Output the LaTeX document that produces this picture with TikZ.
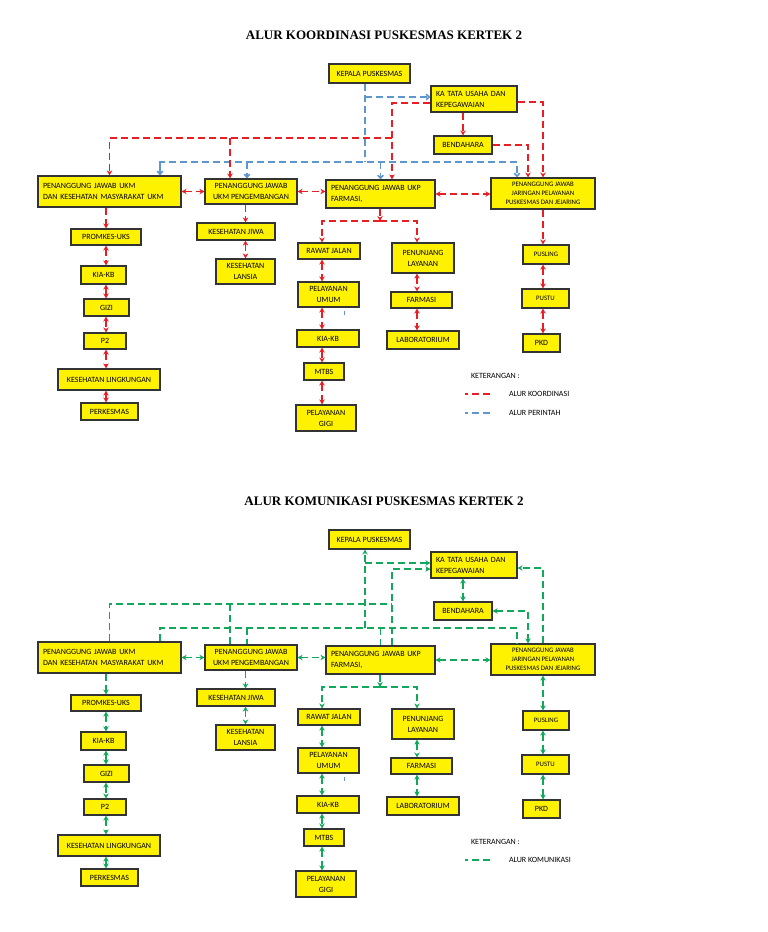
\documentclass[tikz,border=0pt]{standalone}
\usepackage{fontspec}
\setmainfont{Carlito}
\newfontfamily\judulfont{Liberation Serif}
\usetikzlibrary{arrows.meta}
\definecolor{merah}{RGB}{232,30,36}
\definecolor{biru}{RGB}{94,150,208}
\definecolor{hijau}{RGB}{18,168,92}
\tikzset{%
  k/.style = {rectangle,draw=black!80,fill=yellow,line width=1.2pt,
        inner sep=2pt,align=center,font=\fontsize{8}{11}\selectfont},
  kl/.style = {k,align=left,inner xsep=5pt},
  kc/.style = {k,font=\fontsize{6.8}{9}\selectfont},
  koor/.style = {merah,line width=1.8pt,dash pattern=on 7pt off 4pt,
        >={Stealth[length=5pt,width=5.5pt]}},
  per/.style = {biru,line width=1.6pt,dash pattern=on 7pt off 4pt,
        >={Straight Barb[length=3pt,width=5.5pt]}},
  kom/.style = {hijau,line width=1.8pt,dash pattern=on 7pt off 4pt,
        >={Stealth[length=5pt,width=5.5pt]}},
  judul/.style = {font=\judulfont\bfseries\fontsize{13}{15}\selectfont},
  ket/.style = {anchor=west,font=\fontsize{8}{10}\selectfont}
}

\begin{document}
\begin{tikzpicture}[x=1pt,y=-1pt]
\fill[white] (0,0) rectangle (768,932);
\useasboundingbox (0,0) rectangle (768,932);
% kotak kedua bagan
\foreach \nm/\dy/\jd in {a/0/KOORDINASI,b/466/KOMUNIKASI}{
  \begin{scope}[yshift=-\dy]
  \node[judul] (\nm-judul) at (384,35) {ALUR \jd\ PUSKESMAS KERTEK 2};
  \node[k,minimum width=81pt,minimum height=19pt] (\nm-kp) at (369.5,73.5) {KEPALA PUSKESMAS};
  \node[kl,text width=76pt,minimum height=26pt] (\nm-ktu) at (474,99) {KA TATA USAHA DAN\\KEPEGAWAIAN};
  \node[k,minimum width=58pt,minimum height=18pt] (\nm-bnd) at (463,145) {BENDAHARA};
  \node[kl,text width=133pt,minimum height=31pt] (\nm-ukm) at (109.5,191.5) {PENANGGUNG JAWAB UKM\\DAN KESEHATAN MASYARAKAT UKM};
  \node[k,minimum width=92pt,minimum height=25pt] (\nm-ukmp) at (251,191.5) {PENANGGUNG JAWAB\\UKM PENGEMBANGAN};
  \node[kl,text width=99pt,minimum height=28pt] (\nm-ukp) at (380.5,194) {PENANGGUNG JAWAB UKP\\FARMASI,};
  \node[kc,minimum width=104pt,minimum height=31pt] (\nm-jar) at (543,193.5) {PENANGGUNG JAWAB\\JARINGAN PELAYANAN\\PUSKESMAS DAN JEJARING};
  \node[k,minimum width=70pt,minimum height=16pt] (\nm-pro) at (106,237) {PROMKES-UKS};
  \node[k,minimum width=45pt,minimum height=18pt] (\nm-kia) at (103.5,275) {KIA-KB};
  \node[k,minimum width=45pt,minimum height=17pt] (\nm-gizi) at (106.5,307.5) {GIZI};
  \node[k,minimum width=42pt,minimum height=16pt] (\nm-p2) at (105,341) {P2};
  \node[k,minimum width=102pt,minimum height=21pt] (\nm-kl) at (109,379.5) {KESEHATAN LINGKUNGAN};
  \node[k,minimum width=57pt,minimum height=17pt] (\nm-pk) at (109.5,411.5) {PERKESMAS};
  \node[k,minimum width=78pt,minimum height=17pt] (\nm-jiwa) at (236,231.5) {KESEHATAN JIWA};
  \node[k,minimum width=59pt,minimum height=25pt] (\nm-lan) at (245.5,271.5) {KESEHATAN\\LANSIA};
  \node[k,minimum width=62pt,minimum height=16pt] (\nm-rj) at (329,251) {RAWAT JALAN};
  \node[k,minimum width=61pt,minimum height=25pt] (\nm-pu) at (328.5,294.5) {PELAYANAN\\UMUM};
  \node[k,minimum width=62pt,minimum height=17pt] (\nm-kia2) at (328,338.5) {KIA-KB};
  \node[k,minimum width=40pt,minimum height=17pt] (\nm-mtbs) at (324,371.5) {MTBS};
  \node[k,minimum width=60pt,minimum height=26pt] (\nm-gigi) at (326,418) {PELAYANAN\\GIGI};
  \node[k,minimum width=62pt,minimum height=30pt] (\nm-pl) at (423,258) {PENUNJANG\\LAYANAN};
  \node[k,minimum width=61pt,minimum height=16pt] (\nm-far) at (421.5,300) {FARMASI};
  \node[k,minimum width=72pt,minimum height=18pt] (\nm-lab) at (423,340) {LABORATORIUM};
  \node[kc,minimum width=46pt,minimum height=19pt] (\nm-pus) at (546,254.5) {PUSLING};
  \node[kc,minimum width=47pt,minimum height=19pt] (\nm-pst) at (545.5,298.5) {PUSTU};
  \node[k,minimum width=37pt,minimum height=18pt] (\nm-pkd) at (541.5,343) {PKD};
  \draw[biru,line width=0.7pt] (344,311) -- (344,315);
  \end{scope}
}

% bagan koordinasi
\begin{scope}[name prefix=a-]
  \coordinate (b0) at (365,97);
  \coordinate (b1) at (365,162);
  \coordinate (b2) at (160,162);
  \coordinate (b3) at (247,162);
  \coordinate (r1) at (392,138);
  \coordinate (r2) at (230,138);
  \coordinate (s1) at (380,221);
  \coordinate (c3) at (322,0);
  \coordinate (c4) at (417,0);
  % alur perintah
  \draw[per] (kp.south -| b1) -- (b1);
  \draw[per,->] (b0) -- (b0 -| ktu.west);
  \draw[per,->] (b2 |- ukm.north) -- (b2) -| ([xshift=-26pt]jar.north);
  \draw[per,->] (b2) -- (b2 |- ukm.north);
  \draw[per,->] (b3) -- (b3 |- ukmp.north);
  \draw[per,->] (ukp.north |- b1) -- (ukp.north);
  % alur koordinasi
  \draw[koor,->] ([yshift=-4pt]ktu.west) -| (r1 |- ukp.north);
  \draw[koor,->] (r1) -| (ukm.north);
  \draw[koor,->] (r2) -- (r2 |- ukmp.north);
  \draw[koor,->] (ktu.south -| bnd) -- (bnd.north);
  \draw[koor,->] ([yshift=-3pt]ktu.east) -| (jar.north);
  \draw[koor,->] (bnd.east) -| ([xshift=-15pt]jar.north);
  \draw[koor,<->] (ukm.east) -- (ukmp.west);
  \draw[koor,<->] (ukmp.east) -- (ukmp.east -| ukp.west);
  \draw[koor,<->] (ukp.east) -- (ukp.east -| jar.west);
  \draw[koor,->] (ukp.south -| s1) -- (s1);
  \draw[koor,->] (s1) -| (c3 |- rj.north);
  \draw[koor,->] (s1) -| (c4 |- pl.north);
  \draw[koor,->] (ukm.south -| pro) -- (pro.north);
  \draw[koor,->] (ukmp.south -| lan) -- (jiwa.north -| lan);
  \draw[koor,->] (jar.south) -- (pus.north -| jar);
  \draw[koor,<->] (pro.south) -- (kia.north -| pro);
  \draw[koor,<->] (kia.south -| pro) -- (gizi.north -| pro);
  \draw[koor,<->] (gizi.south -| pro) -- (p2.north -| pro);
  \draw[koor,<->] (p2.south -| pro) -- (kl.north -| pro);
  \draw[koor,<->] (kl.south -| pro) -- (pk.north -| pro);
  \draw[koor,<->] (jiwa.south -| lan) -- (lan.north);
  \draw[koor,<->] (rj.south -| c3) -- (pu.north -| c3);
  \draw[koor,<->] (pu.south -| c3) -- (kia2.north -| c3);
  \draw[koor,<->] (kia2.south -| c3) -- (mtbs.north -| c3);
  \draw[koor,<->] (mtbs.south -| c3) -- (gigi.north -| c3);
  \draw[koor,<->] (pl.south -| c4) -- (far.north -| c4);
  \draw[koor,<->] (far.south -| c4) -- (lab.north -| c4);
  \draw[koor,<->] (pus.south -| jar) -- (pst.north -| jar);
  \draw[koor,<->] (pst.south -| jar) -- (pkd.north -| jar);
  % keterangan
  \node[ket] (ket) at (467.5,376) {KETERANGAN :};
  \node[ket] (ak) at (505.5,394) {ALUR KOORDINASI};
  \node[ket] (ap) at (505.5,413) {ALUR PERINTAH};
  \draw[koor] ([xshift=-16pt]ak.west) -- ++(-25,0);
  \draw[per] ([xshift=-16pt]ap.west) -- ++(-25,0);
\end{scope}

% bagan komunikasi
\begin{scope}[yshift=-466pt,name prefix=b-]
  \coordinate (g0) at (365,97);
  \coordinate (g1) at (365,162);
  \coordinate (g2) at (160,162);
  \coordinate (g3) at (247,162);
  \coordinate (h1) at (392,138);
  \coordinate (h2) at (230,138);
  \coordinate (s1) at (380,221);
  \coordinate (c3) at (322,0);
  \coordinate (c4) at (417,0);
  \draw[kom,->] (g1) -- (kp.south -| g1);
  \draw[kom,->] (g0) -- (g0 -| ktu.west);
  \draw[kom] (g2 |- ukm.north) -- (g2) -| ([xshift=-26pt]jar.north);
  \draw[kom] (g3) -- (g3 |- ukmp.north);
  \draw[kom] (ukp.north |- g1) -- (ukp.north);
  \draw[kom,->] (h1 |- ukp.north) |- ([yshift=-4pt]ktu.west);
  \draw[kom] (ukm.north) |- (h1);
  \draw[kom] (h2) -- (h2 |- ukmp.north);
  \draw[kom,->] (jar.north) |- ([yshift=-3pt]ktu.east);
  \draw[kom,<->] (bnd.east) -| ([xshift=-15pt]jar.north);
  \draw[kom,<->] (ktu.south -| bnd) -- (bnd.north);
  \draw[kom,<->] (ukm.east) -- (ukmp.west);
  \draw[kom,<->] (ukmp.east) -- (ukmp.east -| ukp.west);
  \draw[kom,<->] (ukp.east) -- (ukp.east -| jar.west);
  \draw[kom,->] (ukp.south -| s1) -- (s1);
  \draw[kom,->] (s1) -| (c3 |- rj.north);
  \draw[kom,->] (s1) -| (c4 |- pl.north);
  \draw[kom,->] (ukm.south -| pro) -- (pro.north);
  \draw[kom,->] (ukmp.south -| lan) -- (jiwa.north -| lan);
  \draw[kom,<->] (jar.south) -- (pus.north -| jar);
  \draw[kom,<->] (pro.south) -- (kia.north -| pro);
  \draw[kom,<->] (kia.south -| pro) -- (gizi.north -| pro);
  \draw[kom,<->] (gizi.south -| pro) -- (p2.north -| pro);
  \draw[kom,<->] (p2.south -| pro) -- (kl.north -| pro);
  \draw[kom,<->] (kl.south -| pro) -- (pk.north -| pro);
  \draw[kom,<->] (jiwa.south -| lan) -- (lan.north);
  \draw[kom,<->] (rj.south -| c3) -- (pu.north -| c3);
  \draw[kom,<->] (pu.south -| c3) -- (kia2.north -| c3);
  \draw[kom,<->] (kia2.south -| c3) -- (mtbs.north -| c3);
  \draw[kom,<->] (mtbs.south -| c3) -- (gigi.north -| c3);
  \draw[kom,<->] (pl.south -| c4) -- (far.north -| c4);
  \draw[kom,<->] (far.south -| c4) -- (lab.north -| c4);
  \draw[kom,<->] (pus.south -| jar) -- (pst.north -| jar);
  \draw[kom,<->] (pst.south -| jar) -- (pkd.north -| jar);
  % keterangan
  \node[ket] (ket) at (467.5,376) {KETERANGAN :};
  \node[ket] (ak) at (505.5,394) {ALUR KOMUNIKASI};
  \draw[kom] ([xshift=-16pt]ak.west) -- ++(-25,0);
\end{scope}
\end{tikzpicture}
\end{document}
